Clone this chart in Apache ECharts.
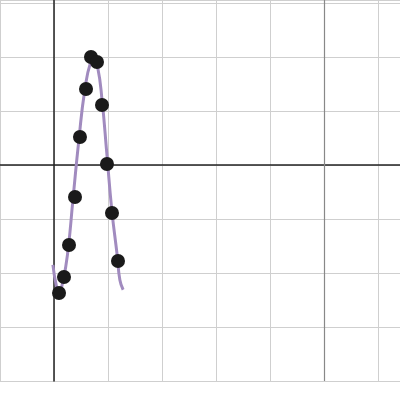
<!DOCTYPE html>
<html>
<head>
<meta charset="utf-8">
<script src="https://cdn.jsdelivr.net/npm/echarts@6/dist/echarts.min.js"></script>
<style>html,body{margin:0;padding:0;background:#fff}#c{width:400px;height:400px}</style>
</head>
<body>
<div id="c"></div>
<script>
// scatter points [x, y]
const pointsX = [0.685, 0.796, 0.593, 0.889, 0.481, 0.981, 0.389, 1.074, 0.278, 1.185, 0.185, 0.093];
const pointsY = [2.0, 1.907, 1.407, 1.111, 0.519, 0.019, -0.593, -0.889, -1.481, -1.778, -2.074, -2.370];

// fitted curve
const curveX = [-0.02, 0.04, 0.09, 0.17, 0.26, 0.35, 0.46, 0.57, 0.68, 0.74, 0.81, 0.89, 0.98, 1.07, 1.17, 1.22, 1.28];
const curveY = [-1.85, -2.22, -2.35, -2.13, -1.57, -0.65, 0.46, 1.39, 1.91, 1.94, 1.80, 1.20, 0.19, -0.83, -1.67, -2.13, -2.31];

const chart = echarts.init(document.getElementById('c'));

chart.setOption({
  animation: false,
  grid: { left: 0, right: 0, top: 0, bottom: 19 },
  xAxis: {
    type: 'value', min: -1, max: 400 / 54 - 1, interval: 1,
    axisLine: { onZero: true, lineStyle: { color: '#222', width: 1.5 } },
    axisTick: { show: false }, axisLabel: { show: false },
    splitLine: { lineStyle: { color: '#cfcfcf', width: 1 } }
  },
  yAxis: {
    type: 'value', min: -4, max: 165 / 54, interval: 1,
    axisLine: { onZero: true, lineStyle: { color: '#222', width: 1.5 } },
    axisTick: { show: false }, axisLabel: { show: false },
    splitLine: { lineStyle: { color: '#cfcfcf', width: 1 } }
  },
  series: [
    {
      type: 'line',
      data: [],
      markLine: {
        silent: true, symbol: 'none', label: { show: false },
        lineStyle: { color: '#888', type: 'solid', width: 1.2 },
        data: [{ xAxis: 5 }]
      }
    },
    {
      type: 'line',
      smooth: true,
      showSymbol: false,
      data: curveX.map((x, i) => [x, curveY[i]]),
      lineStyle: { color: '#a18bbf', width: 3 },
      z: 3
    },
    {
      type: 'scatter',
      symbolSize: 14,
      data: pointsX.map((x, i) => [x, pointsY[i]]),
      itemStyle: { color: '#1a1a1a', opacity: 1 },
      z: 4
    }
  ]
});
</script>
</body>
</html>
